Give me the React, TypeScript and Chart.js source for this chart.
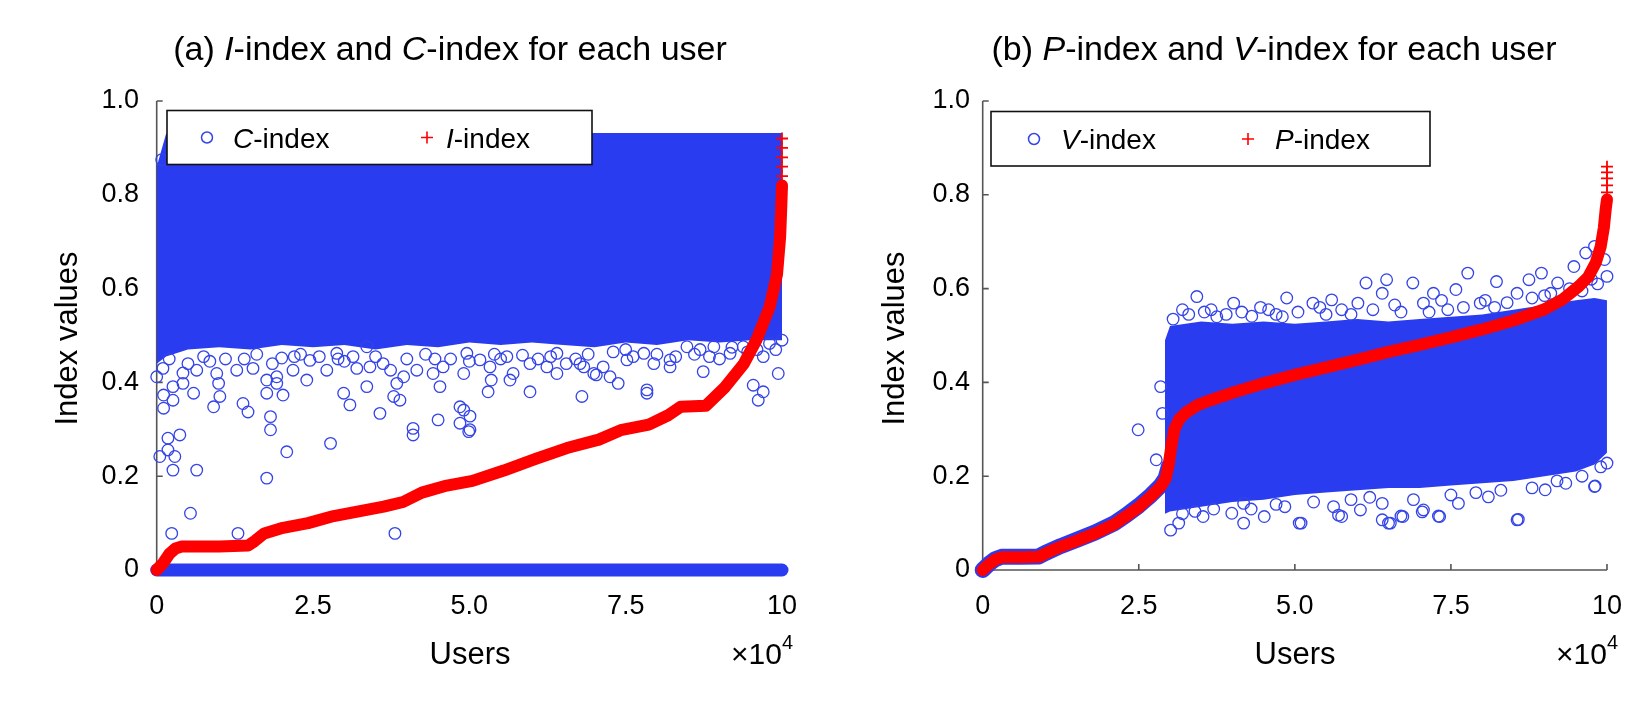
import React, { useEffect, useRef } from 'react';
import { Chart, registerables } from 'chart.js';

Chart.register(...registerables);

const FONT = '"Liberation Sans", Arial, Helvetica, sans-serif';
const BLUE = 'rgb(42,60,240)';
const BLUE_RING = 'rgb(52,68,232)';
const RED = 'rgb(255,0,0)';
const AXIS = '#555555';

// ---------- axes ----------
const xTickValues = [0, 2.5, 5, 7.5, 10];
const xTickLabels = ['0', '2.5', '5.0', '7.5', '10'];
const yTickValues = [0, 0.2, 0.4, 0.6, 0.8, 1.0];
const yTickLabels = ['0', '0.2', '0.4', '0.6', '0.8', '1.0'];

// ---------- panel (a): I-index (red) ----------
const iIndexUsers = [0, 0.1, 0.2, 0.3, 0.4, 1.0, 1.46, 1.57, 1.72, 2.02, 2.42, 2.83, 3.23, 3.63, 3.94, 4.24, 4.64, 5.05, 5.55, 6.06, 6.56, 7.07, 7.42, 7.87, 8.18, 8.38, 8.78, 9.09, 9.39, 9.59, 9.8, 9.92, 9.97, 9.99, 10.0];
const iIndexValues = [0, 0.014, 0.034, 0.046, 0.05, 0.05, 0.052, 0.062, 0.078, 0.09, 0.1, 0.115, 0.125, 0.135, 0.145, 0.165, 0.18, 0.19, 0.212, 0.237, 0.26, 0.278, 0.298, 0.31, 0.33, 0.348, 0.35, 0.39, 0.44, 0.49, 0.56, 0.63, 0.71, 0.78, 0.82];
const iIndexTailUsers = [10, 10, 10, 10, 10];
const iIndexTailValues = [0.84, 0.86, 0.88, 0.9, 0.92];

// ---------- panel (a): C-index (blue) ----------
const cCoreUsers = [0, 0.15, 0.5, 1, 1.5, 2, 2.5, 3, 3.5, 4, 4.5, 5, 5.5, 6, 6.5, 7, 7.5, 8, 8.5, 9, 9.5, 10];
const cCoreUpper = [0.86, 0.93, 0.932, 0.932, 0.932, 0.932, 0.932, 0.932, 0.932, 0.932, 0.932, 0.932, 0.932, 0.932, 0.932, 0.932, 0.932, 0.932, 0.932, 0.932, 0.932, 0.932];
const cCoreLower = [0.44, 0.455, 0.47, 0.475, 0.47, 0.48, 0.475, 0.48, 0.47, 0.48, 0.475, 0.485, 0.48, 0.485, 0.48, 0.475, 0.485, 0.48, 0.49, 0.485, 0.49, 0.49];
const cZeroUsers = [0, 10];
const cZeroValues = [0, 0];
const cSparseUsers = [
  0.08, 0.11, 0.11, 0.26, 0.26, 0.42, 0.59, 0.91, 1.01, 1.38, 1.46, 1.76, 1.82, 1.82, 2.02, 1.92, 2.08, 2.78, 2.99, 3.09,
  3.57, 3.79, 3.89, 4.1, 4.1, 4.5, 4.85, 4.99, 4.91, 4.85, 0.18, 0.18, 0.29, 0.26, 0.05, 0.37, 0.64, 1.76, 0.54, 0.24,
  1.3, 3.81, 5.3, 5.97, 6.8, 7.84, 7.84, 7.38, 8.21, 8.74, 8.84, 9.7, 9.94, 9.54, 9.7, 9.62, 5.01, 5.01, 6.83, 6.4,
  5.65, 5.35, 7.03,
  0.1, 0.0, 0.42, 0.64, 0.96, 0.99, 1.28, 1.54, 1.76, 1.92, 2.18, 2.4, 2.45, 2.72, 2.88, 3.14, 3.36, 3.41, 3.62, 3.74,
  3.84, 3.95, 4.16, 4.42, 4.53, 4.58, 4.91, 4.96, 3.36, 5.17, 5.33, 5.6, 5.7, 5.97, 6.24, 6.4, 6.55, 6.77, 6.99, 7.14,
  7.25, 7.52, 7.62, 7.79, 8.21, 8.48, 8.69, 8.91, 9.17, 9.38, 9.8, 10.0,
  0.2, 0.75, 1.1, 1.6, 2.0, 2.3, 2.6, 3.0, 3.2, 4.0, 4.3, 4.7, 5.4, 5.85, 6.1, 6.9, 7.3, 8.0, 8.3, 9.0, 9.6,
  0.5, 0.85, 1.4, 1.85, 2.2, 2.9, 3.5, 4.45, 5.0, 5.5, 6.3, 6.7, 7.5, 7.95, 8.6, 9.2, 9.45, 9.9
];
const cSparseValues = [
  0.875, 0.345, 0.373, 0.362, 0.391, 0.398, 0.377, 0.348, 0.37, 0.355, 0.337, 0.377, 0.327, 0.299, 0.373, 0.398, 0.252, 0.27, 0.377, 0.352,
  0.334, 0.37, 0.362, 0.302, 0.288, 0.32, 0.313, 0.295, 0.341, 0.348, 0.281, 0.256, 0.242, 0.213, 0.242, 0.288, 0.213, 0.196, 0.121, 0.078,
  0.078, 0.078, 0.38, 0.38, 0.37, 0.377, 0.384, 0.398, 0.433, 0.423, 0.455, 0.455, 0.419, 0.394, 0.38, 0.362, 0.299, 0.328, 0.433, 0.419,
  0.405, 0.405, 0.416,
  0.43, 0.412, 0.42, 0.426, 0.419, 0.398, 0.426, 0.43, 0.405, 0.412, 0.426, 0.405, 0.447, 0.426, 0.462, 0.455, 0.476, 0.433, 0.44, 0.426,
  0.398, 0.412, 0.426, 0.419, 0.391, 0.433, 0.419, 0.462, 0.391, 0.448, 0.433, 0.455, 0.419, 0.44, 0.433, 0.462, 0.44, 0.44, 0.419, 0.433,
  0.412, 0.448, 0.455, 0.462, 0.448, 0.476, 0.47, 0.476, 0.462, 0.476, 0.483, 0.49,
  0.45, 0.455, 0.45, 0.46, 0.452, 0.46, 0.455, 0.445, 0.43, 0.45, 0.46, 0.45, 0.46, 0.458, 0.45, 0.46, 0.465, 0.46, 0.455, 0.45, 0.47,
  0.44, 0.445, 0.45, 0.44, 0.455, 0.45, 0.455, 0.45, 0.445, 0.45, 0.455, 0.45, 0.47, 0.44, 0.46, 0.475, 0.465, 0.47
];

// ---------- panel (b): P-index (red) ----------
const pIndexUsers = [0, 0.1, 0.2, 0.3, 0.6, 0.9, 1.0, 1.25, 1.5, 1.8, 2.1, 2.3, 2.5, 2.7, 2.85, 2.93, 2.98, 3.02, 3.07, 3.15, 3.27, 3.45, 3.65, 4.0, 4.5, 5.0, 5.5, 6.0, 6.5, 7.0, 7.5, 8.0, 8.5, 9.0, 9.3, 9.55, 9.7, 9.82, 9.9, 9.95, 9.98, 10.0];
const pIndexValues = [0, 0.012, 0.022, 0.027, 0.027, 0.028, 0.035, 0.05, 0.062, 0.078, 0.097, 0.115, 0.134, 0.158, 0.178, 0.195, 0.225, 0.262, 0.3, 0.322, 0.337, 0.352, 0.362, 0.378, 0.398, 0.416, 0.432, 0.448, 0.465, 0.48, 0.496, 0.513, 0.532, 0.556, 0.578, 0.605, 0.625, 0.655, 0.69, 0.73, 0.77, 0.79];
const pIndexTailUsers = [10, 10, 10, 10, 10];
const pIndexTailValues = [0.805, 0.82, 0.835, 0.848, 0.86];

// ---------- panel (b): V-index (blue) ----------
const vLowUsers = [0, 0.1, 0.2, 0.3, 0.6, 0.9, 1.0, 1.25, 1.5, 1.8, 2.1, 2.3, 2.5, 2.7, 2.85, 2.93, 2.98];
const vLowValues = [0, 0.013, 0.023, 0.028, 0.028, 0.029, 0.036, 0.051, 0.064, 0.08, 0.099, 0.117, 0.137, 0.16, 0.18, 0.196, 0.22];
const vCoreUsers = [2.92, 3.0, 3.5, 4, 4.5, 5, 5.5, 6, 6.5, 7, 7.5, 8, 8.5, 9, 9.5, 9.8, 10];
const vCoreUpper = [0.49, 0.52, 0.53, 0.525, 0.53, 0.525, 0.53, 0.535, 0.53, 0.535, 0.54, 0.545, 0.555, 0.565, 0.575, 0.58, 0.575];
const vCoreLower = [0.12, 0.125, 0.135, 0.145, 0.15, 0.16, 0.165, 0.17, 0.175, 0.175, 0.18, 0.185, 0.19, 0.2, 0.21, 0.225, 0.25];
const vSparseUsers = [
  3.43, 3.2, 4.02, 4.58, 4.87, 5.29, 5.59, 6.14, 6.47, 6.89, 6.4, 7.22, 7.58, 7.77, 8.23, 8.75, 8.95, 9.21, 9.47, 9.66,
  9.8, 9.96, 10.0, 3.66, 4.31, 5.75, 7.06, 7.97, 8.56, 6.01, 7.45, 3.05, 3.9, 4.8, 5.5, 6.7, 8.2, 9.0, 9.4, 9.85,
  3.01, 3.14, 3.53, 3.99, 4.18, 4.51, 5.1, 5.62, 5.75, 6.05, 6.4, 6.53, 6.73, 7.06, 7.32, 7.62, 8.56, 8.1, 9.01, 9.34,
  9.8, 10.0, 4.18, 4.84, 6.4, 5.07, 6.5, 6.7, 7.3, 8.58, 9.81, 5.7, 7.04,
  2.49, 2.78, 2.88, 2.85,
  3.3, 3.55, 3.75, 4.15, 4.45, 4.7, 5.05, 5.4, 5.9, 6.25, 6.6, 7.15, 7.35, 7.7, 8.05, 8.4, 8.8, 9.1, 9.6, 9.75,
  3.2, 3.4, 3.7, 4.3, 4.7, 5.3, 5.9, 6.2, 6.9, 7.5, 7.9, 8.3, 8.8, 9.2, 9.6, 9.9
];
const vSparseValues = [
  0.583, 0.555, 0.569, 0.555, 0.58, 0.569, 0.576, 0.612, 0.619, 0.612, 0.59, 0.59, 0.598, 0.633, 0.615, 0.619, 0.633, 0.612, 0.647, 0.676,
  0.69, 0.662, 0.626, 0.555, 0.541, 0.555, 0.569, 0.569, 0.59, 0.569, 0.555, 0.535, 0.545, 0.54, 0.545, 0.55, 0.56, 0.585, 0.6, 0.61,
  0.085, 0.1, 0.114, 0.121, 0.1, 0.114, 0.1, 0.135, 0.114, 0.128, 0.107, 0.1, 0.114, 0.128, 0.114, 0.142, 0.107, 0.156, 0.171, 0.185,
  0.178, 0.228, 0.142, 0.135, 0.142, 0.1, 0.1, 0.115, 0.115, 0.108, 0.179, 0.117, 0.124,
  0.299, 0.235, 0.334, 0.391,
  0.545, 0.55, 0.54, 0.55, 0.56, 0.545, 0.55, 0.56, 0.545, 0.555, 0.565, 0.55, 0.575, 0.56, 0.575, 0.57, 0.58, 0.59, 0.595, 0.62,
  0.12, 0.125, 0.13, 0.13, 0.14, 0.145, 0.15, 0.155, 0.15, 0.16, 0.165, 0.17, 0.175, 0.19, 0.2, 0.22
];

const pts = (xs: number[], ys: number[]) => xs.map((x, i) => ({ x, y: ys[i] }));

type Run = { t: string; i?: boolean };

function drawRuns(ctx: CanvasRenderingContext2D, runs: Run[], x: number, y: number, size: number, align: 'left' | 'center' | 'right') {
  const fonts = runs.map((r) => `${r.i ? 'italic ' : ''}${size}px ${FONT}`);
  const widths = runs.map((r, k) => {
    ctx.font = fonts[k];
    return ctx.measureText(r.t).width;
  });
  const total = widths.reduce((a, b) => a + b, 0);
  let cx = align === 'center' ? x - total / 2 : align === 'right' ? x - total : x;
  ctx.textAlign = 'left';
  ctx.textBaseline = 'alphabetic';
  runs.forEach((r, k) => {
    ctx.font = fonts[k];
    ctx.fillText(r.t, cx, y);
    cx += widths[k];
  });
}

type Spec = {
  title: Run[];
  titleX: number;
  legendBox: [number, number, number, number];
  legendY: number;
  circleX: number;
  circleText: Run[];
  circleTextX: number;
  plusX: number;
  plusText: Run[];
  plusTextX: number;
  yTitleX: number;
  xTitleX: number;
  expRight: number;
  yAxisWidth: number;
  yTickPad: number;
  padRight: number;
  datasets: any[];
};

function makeDecor(s: Spec) {
  return {
    id: 'decor',
    beforeDatasetsDraw(chart: any) {
      const { ctx, chartArea: a, scales } = chart;
      const xs = scales.x;
      const ys = scales.y;
      ctx.save();
      ctx.strokeStyle = AXIS;
      ctx.lineWidth = 1.6;
      ctx.beginPath();
      ctx.moveTo(a.left, a.top);
      ctx.lineTo(a.left, a.bottom);
      ctx.lineTo(a.right, a.bottom);
      yTickValues.forEach((v) => {
        const p = ys.getPixelForValue(v);
        ctx.moveTo(a.left, p);
        ctx.lineTo(a.left + 6, p);
      });
      xTickValues.forEach((v) => {
        const p = xs.getPixelForValue(v);
        ctx.moveTo(p, a.bottom);
        ctx.lineTo(p, a.bottom - 6);
      });
      ctx.stroke();
      ctx.restore();
    },
    afterDraw(chart: any) {
      const { ctx, chartArea: a } = chart;
      ctx.save();
      ctx.fillStyle = '#000';
      drawRuns(ctx, s.title, s.titleX, 60, 34, 'center');

      // legend
      const [l, t, r, b] = s.legendBox;
      ctx.fillStyle = '#fff';
      ctx.fillRect(l, t, r - l, b - t);
      ctx.strokeStyle = '#111';
      ctx.lineWidth = 1.6;
      ctx.strokeRect(l, t, r - l, b - t);
      ctx.strokeStyle = BLUE_RING;
      ctx.lineWidth = 1.5;
      ctx.beginPath();
      ctx.arc(s.circleX, s.legendY, 5.5, 0, Math.PI * 2);
      ctx.stroke();
      ctx.strokeStyle = RED;
      ctx.lineWidth = 1.6;
      ctx.beginPath();
      ctx.moveTo(s.plusX - 6, s.legendY);
      ctx.lineTo(s.plusX + 6, s.legendY);
      ctx.moveTo(s.plusX, s.legendY - 6);
      ctx.lineTo(s.plusX, s.legendY + 6);
      ctx.stroke();
      ctx.fillStyle = '#000';
      drawRuns(ctx, s.circleText, s.circleTextX, s.legendY + 10, 28, 'left');
      drawRuns(ctx, s.plusText, s.plusTextX, s.legendY + 10, 28, 'left');

      // axis titles
      ctx.save();
      ctx.translate(s.yTitleX, (a.top + a.bottom) / 2 + 3);
      ctx.rotate(-Math.PI / 2);
      ctx.font = `31px ${FONT}`;
      ctx.textAlign = 'center';
      ctx.textBaseline = 'middle';
      ctx.fillText('Index values', 0, 0);
      ctx.restore();

      drawRuns(ctx, [{ t: 'Users' }], s.xTitleX, 664, 31, 'center');

      // x10^4
      ctx.font = `20px ${FONT}`;
      const w4 = ctx.measureText('4').width;
      ctx.textAlign = 'left';
      ctx.textBaseline = 'alphabetic';
      ctx.fillText('4', s.expRight - w4, 649);
      ctx.font = `30px ${FONT}`;
      const w10 = ctx.measureText('\u00d710').width;
      ctx.fillText('\u00d710', s.expRight - w4 - w10, 664);
      ctx.restore();
    },
  };
}

function buildConfig(s: Spec): any {
  return {
    type: 'scatter',
    data: { datasets: s.datasets },
    options: {
      responsive: false,
      maintainAspectRatio: false,
      animation: false,
      events: [],
      layout: { padding: { left: 0, right: s.padRight, top: 101, bottom: 0 } },
      plugins: { legend: { display: false }, tooltip: { enabled: false }, title: { display: false } },
      scales: {
        x: {
          type: 'linear',
          position: 'bottom',
          min: 0,
          max: 10,
          afterBuildTicks: (sc: any) => {
            sc.ticks = xTickValues.map((v) => ({ value: v }));
          },
          afterFit: (sc: any) => {
            sc.height = 133;
          },
          grid: { display: false, drawTicks: false },
          border: { display: false },
          ticks: {
            font: { family: FONT, size: 27 },
            color: '#000',
            padding: 20,
            maxRotation: 0,
            autoSkip: false,
            callback: (v: number) => xTickLabels[xTickValues.indexOf(v)],
          },
        },
        y: {
          type: 'linear',
          position: 'left',
          min: 0,
          max: 1,
          afterBuildTicks: (sc: any) => {
            sc.ticks = yTickValues.map((v) => ({ value: v }));
          },
          afterFit: (sc: any) => {
            sc.width = s.yAxisWidth;
          },
          grid: { display: false, drawTicks: false },
          border: { display: false },
          ticks: {
            font: { family: FONT, size: 27 },
            color: '#000',
            padding: s.yTickPad,
            autoSkip: false,
            callback: (v: number) => yTickLabels[yTickValues.indexOf(v)],
          },
        },
      },
    },
    plugins: [makeDecor(s)],
  };
}

const redLine = (xs: number[], ys: number[]) => ({
  type: 'line',
  data: pts(xs, ys),
  borderColor: RED,
  borderWidth: 12,
  borderJoinStyle: 'round',
  borderCapStyle: 'round',
  pointRadius: 0,
  fill: false,
  tension: 0,
  order: 1,
  clip: false,
});
const redTail = (xs: number[], ys: number[]) => ({
  type: 'scatter',
  data: pts(xs, ys),
  pointStyle: 'cross',
  pointRadius: 6,
  borderColor: RED,
  borderWidth: 1.8,
  order: 0,
  clip: false,
});
const rings = (xs: number[], ys: number[]) => ({
  type: 'scatter',
  data: pts(xs, ys),
  pointStyle: 'circle',
  pointRadius: 5.8,
  borderColor: BLUE_RING,
  backgroundColor: 'rgba(0,0,0,0)',
  borderWidth: 1.3,
  order: 3,
  clip: false,
});
const coreUpper = (xs: number[], ys: number[]) => ({
  type: 'line',
  data: pts(xs, ys),
  borderWidth: 0,
  borderColor: BLUE,
  backgroundColor: BLUE,
  pointRadius: 0,
  fill: '+1',
  tension: 0,
  order: 6,
  clip: false,
});
const coreLower = (xs: number[], ys: number[]) => ({
  type: 'line',
  data: pts(xs, ys),
  borderWidth: 0,
  borderColor: BLUE,
  pointRadius: 0,
  fill: false,
  tension: 0,
  order: 7,
  clip: false,
});
const blueThick = (xs: number[], ys: number[], w: number) => ({
  type: 'line',
  data: pts(xs, ys),
  borderColor: BLUE,
  borderWidth: w,
  borderCapStyle: 'round',
  borderJoinStyle: 'round',
  pointRadius: 0,
  fill: false,
  tension: 0,
  order: 4,
  clip: false,
});

const specA: Spec = {
  title: [{ t: '(a) ' }, { t: 'I', i: true }, { t: '-index and ' }, { t: 'C', i: true }, { t: '-index for each user' }],
  titleX: 450,
  legendBox: [167, 110.5, 592, 164.5],
  legendY: 137.5,
  circleX: 207,
  circleText: [{ t: 'C', i: true }, { t: '-index' }],
  circleTextX: 233,
  plusX: 427,
  plusText: [{ t: 'I', i: true }, { t: '-index' }],
  plusTextX: 446,
  yTitleX: 68,
  xTitleX: 470,
  expRight: 793,
  yAxisWidth: 156.7,
  yTickPad: 17.7,
  padRight: 39,
  datasets: [
    redTail(iIndexTailUsers, iIndexTailValues),
    redLine(iIndexUsers, iIndexValues),
    rings(cSparseUsers, cSparseValues),
    coreUpper(cCoreUsers, cCoreUpper),
    coreLower(cCoreUsers, cCoreLower),
    blueThick(cZeroUsers, cZeroValues, 13),
  ],
};

const specB: Spec = {
  title: [{ t: '(b) ' }, { t: 'P', i: true }, { t: '-index and ' }, { t: 'V', i: true }, { t: '-index for each user' }],
  titleX: 453,
  legendBox: [170, 111.5, 609, 166],
  legendY: 139,
  circleX: 213,
  circleText: [{ t: 'V', i: true }, { t: '-index' }],
  circleTextX: 240,
  plusX: 427,
  plusText: [{ t: 'P', i: true }, { t: '-index' }],
  plusTextX: 454,
  yTitleX: 74.5,
  xTitleX: 474,
  expRight: 797,
  yAxisWidth: 161.7,
  yTickPad: 12.7,
  padRight: 34,
  datasets: [
    redTail(pIndexTailUsers, pIndexTailValues),
    redLine(pIndexUsers, pIndexValues),
    rings(vSparseUsers, vSparseValues),
    coreUpper(vCoreUsers, vCoreUpper),
    coreLower(vCoreUsers, vCoreLower),
    blueThick(vLowUsers, vLowValues, 16),
  ],
};

function Panel({ spec }: { spec: Spec }) {
  const ref = useRef<HTMLCanvasElement>(null);
  useEffect(() => {
    if (!ref.current) return;
    const chart = new Chart(ref.current, buildConfig(spec));
    return () => chart.destroy();
  }, [spec]);
  return <canvas ref={ref} width={821} height={703} style={{ display: 'block', width: 821, height: 703 }} />;
}

export default function App() {
  return (
    <div style={{ position: 'absolute', left: 0, top: 0, width: 1642, height: 703, display: 'flex', background: '#fff', overflow: 'hidden' }}>
      <Panel spec={specA} />
      <Panel spec={specB} />
    </div>
  );
}
